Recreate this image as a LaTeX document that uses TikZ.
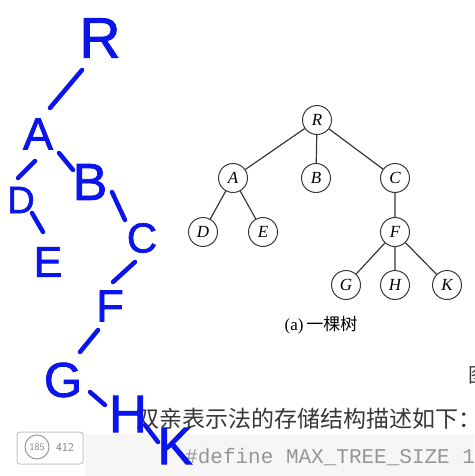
\documentclass[tikz,border=0pt]{standalone}
\usepackage{fontspec}
\setmainfont{Liberation Serif}
\setmonofont{Liberation Mono}
\newfontfamily\cjk{Noto Sans CJK SC}
\newfontfamily\handfont[FakeBold=1.5]{Liberation Sans}
\usetikzlibrary{calc}
\definecolor{handblue}{RGB}{10,20,235}
\definecolor{inkgray}{RGB}{55,55,55}
\definecolor{codegray}{RGB}{150,150,150}

\begin{document}
\begin{tikzpicture}[x=1pt,y=-1pt,
  tnode/.style={circle,draw=inkgray,line width=1pt,minimum size=29pt,inner sep=0pt,
    font=\fontsize{17}{17}\selectfont\itshape},
  hw/.style={text=handblue,inner sep=0pt,font=\handfont\fontsize{#1}{#1}\selectfont},
  pen/.style={draw=handblue,line width=4.5pt,line cap=round}]
\useasboundingbox (0,0) rectangle (474,476);
\clip (0,0) rectangle (474,476);

%% page background
\fill[gray!7] (85,434) rectangle (474,476);

%% printed tree
\node[tnode] (r) at (317,120) {R};
\node[tnode] (a) at (233,178) {A};
\node[tnode] (b) at (316,178) {B};
\node[tnode] (c) at (395,178) {C};
\node[tnode] (d) at (203,232) {D};
\node[tnode] (e) at (263,232) {E};
\node[tnode] (f) at (395,232) {F};
\node[tnode] (g) at (346,285) {G};
\node[tnode] (h) at (395,285) {H};
\node[tnode] (k) at (447,285) {K};
\draw[inkgray, line width=1.2pt] (r) -- (a) (r) -- (b) (r) -- (c)
  (a) -- (d) (a) -- (e) (c) -- (f) (f) -- (g) (f) -- (h) (f) -- (k);
\node (cap) at (321,325) {\fontsize{17}{17}\selectfont (a)\,{\cjk 一棵树}};

%% book text
\node[anchor=west, text=inkgray, inner sep=0pt] (fig) at (468,375) {\cjk\fontsize{20}{20}\selectfont 图};
\node[anchor=west, text=inkgray, inner sep=0pt] (desc) at (136,419)
  {\cjk\fontsize{23}{23}\selectfont 双亲表示法的存储结构描述如下：};
\node[anchor=west, text=codegray, inner sep=0pt] (code) at (185,457)
  {\ttfamily\fontsize{21}{21}\selectfont \#define MAX\_TREE\_SIZE 1};

%% page badge
\draw[gray!45, line width=1pt, fill=white, rounded corners=3pt] (17,432) rectangle (83,464);
\node[circle, draw=gray!80, line width=1pt, minimum size=24pt, inner sep=0pt,
  text=gray, font=\sffamily\fontsize{10}{10}\selectfont] (pg) at (37,447) {185};
\node[text=gray, font=\sffamily\fontsize{12}{12}\selectfont] (tot) at (65,447) {412};

%% handwritten tree
\node[hw=57] (R) at (100,38) {R};
\node[hw=45] (A) at (38,134) {A};
\node[hw=52] (B) at (90,182) {B};
\node[hw=38] (D) at (21,200) {D};
\node[hw=43] (E) at (48,262) {E};
\node[hw=42] (C) at (142,238) {C};
\node[hw=45] (F) at (110,306) {F};
\node[hw=49] (G) at (63,380) {G};
\node[hw=53] (H) at (128,414) {H};
\node[hw=53] (K) at (175,446) {K};
\draw[pen] ($(R)+(-18,32)$) -- ($(A)+(12,-26)$);
\draw[pen] ($(A)+(-3,27)$) -- ($(D)+(-3,-22)$);
\draw[pen] ($(A)+(21,19)$) -- ($(B)+(-17,-12)$);
\draw[pen] ($(D)+(11,13)$) -- ($(E)+(-5,-30)$);
\draw[pen] ($(B)+(22,10)$) -- ($(C)+(-17,-18)$);
\draw[pen] ($(C)+(-7,24)$) -- ($(F)+(3,-24)$);
\draw[pen] ($(F)+(-12,24)$) -- ($(G)+(17,-28)$);
\draw[pen] ($(G)+(27,12)$) -- ($(H)+(-23,-9)$);
\draw[pen] ($(H)+(17,11)$) -- ($(K)+(-17,-4)$);
\end{tikzpicture}
\end{document}
